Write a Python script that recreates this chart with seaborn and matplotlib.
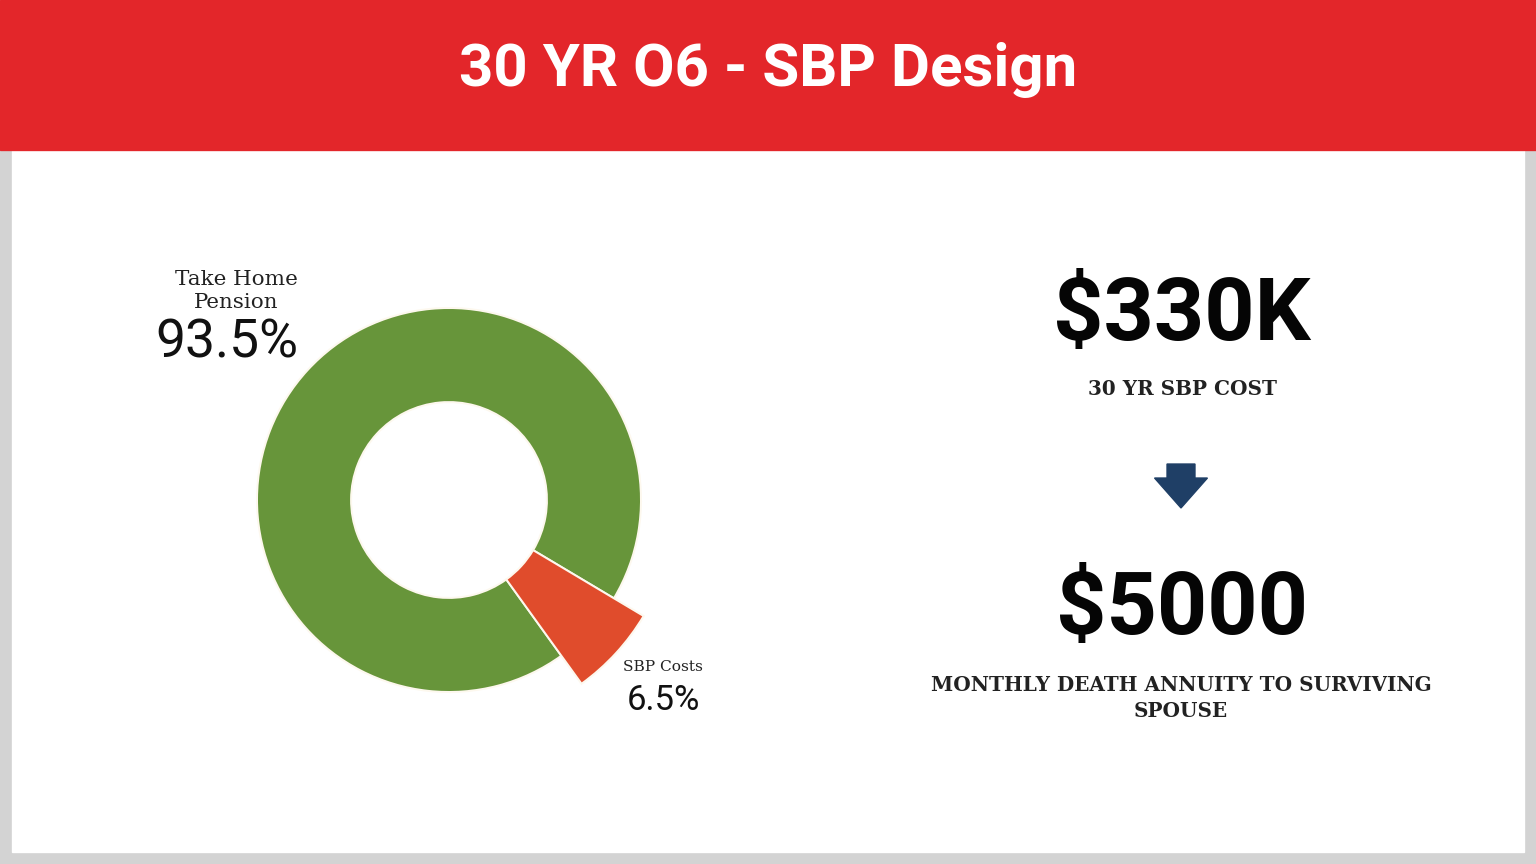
import matplotlib.pyplot as plt
import matplotlib.patches as mpatches
import seaborn as sns

# data
slice_labels = ["Take Home\nPension", "SBP Costs"]
slice_shares = [93.5, 6.5]
slice_colors = ["#67953a", "#e04c2c"]
stat_values = ["$330K", "$5000"]
stat_captions = ["30 YR SBP COST", "MONTHLY DEATH ANNUITY TO SURVIVING\nSPOUSE"]
title = "30 YR O6 - SBP Design"

sns.set_theme(style="white")
plt.rcParams['font.family'] = ['Roboto', 'DejaVu Sans']

W, H = 1536, 864
fig = plt.figure(figsize=(W / 96, H / 96), dpi=96)
fig.patch.set_facecolor("#d3d3d3")


def fx(px):
    return px / W


def fy(py):
    return 1 - py / H


# white panel and red header (kept behind the donut axes)
fig.patches.append(mpatches.Rectangle((fx(12), fy(852)), fx(1512), 702 / H,
                                      transform=fig.transFigure, color="white", zorder=-2))
fig.patches.append(mpatches.Rectangle((0, fy(150)), 1, 150 / H,
                                      transform=fig.transFigure, color="#e3262a", zorder=-2))
fig.text(0.5, fy(70), title, ha="center", va="center", color="white",
         fontsize=45, fontweight="bold")

# donut
ax = fig.add_axes([fx(209), 124 / H, fx(480), 480 / H])
ax.set_zorder(1)
ax.set_facecolor("none")
wedges, _ = ax.pie(slice_shares, colors=slice_colors, startangle=-30.8,
                   radius=1.0, wedgeprops=dict(width=0.49, edgecolor="#fdf8ee", linewidth=1.5))
# the SBP slice sticks out beyond the ring
wedges[1].set_radius(1.18)
wedges[1].set_width(0.67)
ax.set_xlim(-1.25, 1.25)
ax.set_ylim(-1.25, 1.25)
ax.set_aspect("equal")
ax.axis("off")

serif = ['DejaVu Serif']
fig.text(fx(236), fy(291), slice_labels[0], ha="center", va="center",
         fontsize=16, family=serif, linespacing=1.3, color="#222222")
fig.text(fx(227), fy(343), f"{slice_shares[0]}%", ha="center", va="center",
         fontsize=40, fontweight="normal", color="#111111")
fig.text(fx(663), fy(667), slice_labels[1], ha="center", va="center",
         fontsize=11.5, family=serif, color="#222222")
fig.text(fx(663), fy(700), f"{slice_shares[1]}%", ha="center", va="center",
         fontsize=26, fontweight="normal", color="#111111")

# right-hand stats
fig.text(fx(1182), fy(316), stat_values[0], ha="center", va="center",
         fontsize=66, fontweight="bold", color="#050505")
fig.text(fx(1182), fy(389), stat_captions[0], ha="center", va="center",
         fontsize=15, fontweight="bold", family=serif, color="#222222")
fig.text(fx(1182), fy(610), stat_values[1], ha="center", va="center",
         fontsize=66, fontweight="bold", color="#050505")
fig.text(fx(1181), fy(698), stat_captions[1], ha="center", va="center",
         fontsize=15, fontweight="bold", family=serif, color="#222222", linespacing=1.35)

fig.patches.append(mpatches.FancyArrow(fx(1181), fy(464), 0, -44 / H, width=fx(28),
                                       head_width=fx(53), head_length=30 / H,
                                       length_includes_head=True, transform=fig.transFigure,
                                       color="#1f3f66", zorder=2))

fig.savefig("out.png", dpi=96, facecolor=fig.get_facecolor())
